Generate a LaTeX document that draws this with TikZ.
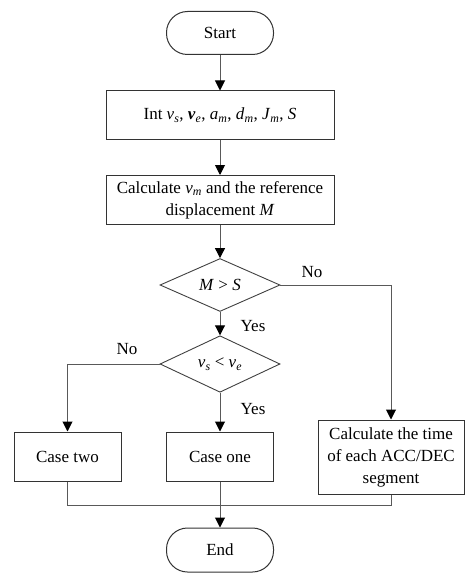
\documentclass[tikz,border=0pt]{standalone}
\usepackage{fontspec}
\setmainfont{Liberation Serif}
\usetikzlibrary{shapes.geometric,arrows.meta}
\newcommand{\vsub}[2]{\textit{#1}\textsubscript{\textit{#2}}}
\begin{document}
\begin{tikzpicture}[x=1pt,y=-1pt,
  font=\fontsize{17}{22}\selectfont,
  box/.style={draw=black!80,line width=1pt,fill=white,align=center,inner sep=2pt},
  pill/.style={box,rounded corners=21pt,minimum width=107pt,minimum height=43pt},
  dia/.style={draw=black!75,line width=0.9pt,shape=diamond,inner sep=0pt,minimum width=120pt,minimum height=47pt},
  conn/.style={draw=black!65,line width=1pt},
  arr/.style={conn,-{Triangle[width=10pt,length=10pt,color=black]}},
  lbl/.style={inner sep=0pt}]
\useasboundingbox (0,0) rectangle (474,583);
\node[pill] (start) at (220,33) {Start};
\node[box,minimum width=228pt,minimum height=48pt] (init) at (220,115)
  {Int \vsub{v}{s}, \textbf{\textit{v}}\textsubscript{\textit{e}}, \vsub{a}{m}, \vsub{d}{m}, \vsub{J}{m}, \textit{S}};
\node[box,minimum width=228pt,minimum height=49pt] (calcm) at (220,200)
  {Calculate \vsub{v}{m} and the reference\\displacement \textit{M}};
\node[dia] (d1) at (220,285) {\textit{M} {\textgreater} \textit{S}};
\node[dia,minimum height=46pt] (d2) at (220,364) {\vsub{v}{s} {\textless} \vsub{v}{e}};
\node[box,minimum width=107pt,minimum height=49pt] (case2) at (67.5,456.5) {Case two};
\node[box,minimum width=107pt,minimum height=49pt] (case1) at (220,456.5) {Case one};
\node[box,minimum width=146pt,minimum height=74pt] (calct) at (391,457)
  {Calculate the time\\of each ACC/DEC\\segment};
\node[pill,minimum height=44pt] (end) at (220,550) {End};
\coordinate (m) at (220,505);
\draw[arr] (start) -- (init);
\draw[arr] (init) -- (calcm);
\draw[arr] (calcm) -- (d1);
\draw[arr] (d1) -- (d2);
\draw[arr] (d1.east) -| (calct.north);
\draw[arr] (d2.west) -| (case2.north);
\draw[arr] (d2) -- (case1);
\draw[conn] (case2.south) |- (m);
\draw[conn] (calct.south) |- (m);
\draw[arr] (case1.south) -- (end.north);
\node[lbl] (no1) at (312,272) {No};
\node[lbl] (yes1) at (253,326) {Yes};
\node[lbl] (no2) at (127,349) {No};
\node[lbl] (yes2) at (253,409) {Yes};
\end{tikzpicture}
\end{document}
